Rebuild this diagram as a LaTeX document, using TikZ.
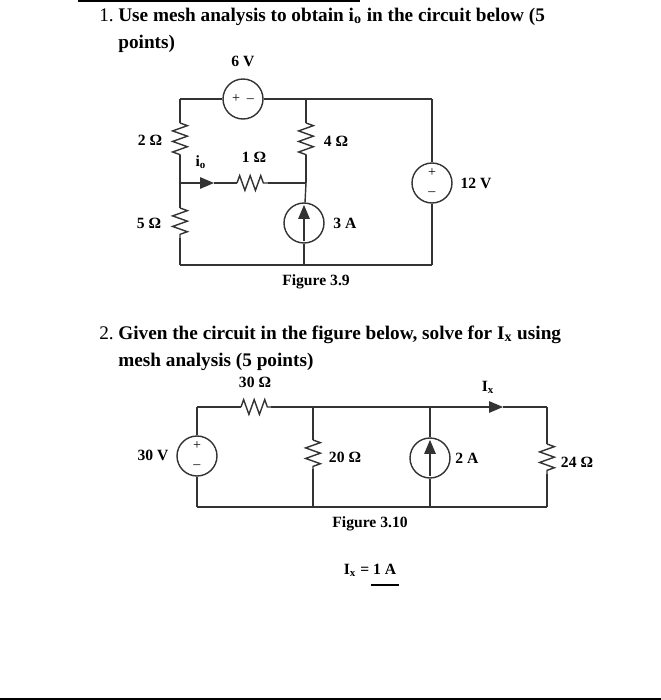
\documentclass[tikz,border=0pt]{standalone}
\usepackage{fontspec}
\setmainfont{Liberation Serif}
\usetikzlibrary{arrows,decorations.pathmorphing}
\begin{document}
\begin{tikzpicture}[x=0.02cm,y=-0.02cm]
\tikzstyle{wire}=[draw=black!80, line width=0.8pt]
\tikzstyle{res}=[wire, decorate, decoration={zigzag, segment length=6pt, amplitude=4.2pt}]
\tikzstyle{src}=[circle, draw=black!80, line width=0.8pt, minimum size=0.8cm, inner sep=0pt, font=\fontsize{8}{8}\selectfont]
\tikzstyle{lbl}=[inner sep=0pt, font=\fontsize{8.9}{10}\bfseries\selectfont]
\tikzstyle{txt}=[inner sep=0pt, anchor=base west, font=\fontsize{10.95}{13}\bfseries\selectfont]
\useasboundingbox (0,0) rectangle (661,700);
% top and bottom rules
\coordinate (t1) at (78,1);
\coordinate (t2) at (360,1);
\coordinate (b1) at (0,699);
\coordinate (b2) at (661,699);
\draw[line width=1.2pt] (t1) -- (t2);
\draw[line width=1.2pt] (b1) -- (b2);
% question 1
\node[txt, font=\fontsize{10.95}{13}\selectfont] (q1n) at (99,21) {1.};
\node[txt] (q1a) at (118,21) {Use mesh analysis to obtain i\textsubscript{o} in the circuit below (5};
\node[txt] (q1b) at (118,48) {points)};
% first circuit
\coordinate (a1) at (180,99);
\coordinate (a2) at (306,99);
\coordinate (a3) at (432,99);
\coordinate (a4) at (180,183);
\coordinate (a5) at (306,183);
\coordinate (a6) at (180,265);
\coordinate (a7) at (304,265);
\coordinate (a8) at (432,265);
\coordinate (r2t) at (180,123);
\coordinate (r2b) at (180,155);
\coordinate (r5t) at (180,208);
\coordinate (r5b) at (180,238);
\coordinate (r4t) at (306,123);
\coordinate (r4b) at (306,155);
\coordinate (r1l) at (237,183);
\coordinate (r1r) at (268,183);
\coordinate (io) at (214,183);
\node[src] (v6) at (243,99) {+\hspace{4pt}--};
\node[src] (v12) at (432,183) {\begin{tabular}{@{}c@{}}+\\[3pt]--\end{tabular}};
\node[src] (i3) at (304,223) {};
\foreach \i/\j in {a1/v6,v6/a2,a2/a3,a3/v12,v12/a8,a8/a7,a7/a6,a6/r5b,r5t/a4,a4/r2b,r2t/a1,a2/r4t,r4b/a5,a5/i3,i3/a7,r1r/a5,io/r1l}{\draw[wire] (\i) -- (\j);}
\foreach \i/\j in {r2t/r2b,r5t/r5b,r4t/r4b,r1l/r1r}{\draw[res] (\i) -- (\j);}
\draw[wire, -triangle 45] (a4) -- (io);
\draw[wire, -triangle 45, shorten >=1.5pt, shorten <=1.5pt] (i3.south) -- (i3.north);
\node[lbl] (l6) at (243,61) {6 V};
\node[lbl] (l2) at (150,140) {2 Ω};
\node[lbl] (l5) at (149,223) {5 Ω};
\node[lbl] (l4) at (336,141) {4 Ω};
\node[lbl] (l1) at (254,157) {1 Ω};
\node[lbl] (lio) at (201,162) {i\textsubscript{o}};
\node[lbl] (l12) at (476,183) {12 V};
\node[lbl] (l3) at (345,223) {3 A};
\node[lbl] (fig1) at (316,282) {Figure 3.9};
% question 2
\node[txt, font=\fontsize{10.95}{13}\selectfont] (q2n) at (99,339) {2.};
\node[txt] (q2a) at (118,339) {Given the circuit in the figure below, solve for I\textsubscript{x} using};
\node[txt] (q2b) at (118,366) {mesh analysis (5 points)};
% second circuit
\coordinate (c1) at (197,407);
\coordinate (c2) at (313,407);
\coordinate (c3) at (430,407);
\coordinate (c4) at (547,407);
\coordinate (c5) at (197,507);
\coordinate (c6) at (313,507);
\coordinate (c7) at (430,507);
\coordinate (c8) at (547,507);
\coordinate (r30l) at (241,407);
\coordinate (r30r) at (271,407);
\coordinate (r20t) at (313,440);
\coordinate (r20b) at (313,469);
\coordinate (r24t) at (547,444);
\coordinate (r24b) at (547,474);
\coordinate (ix) at (503,407);
\node[src] (v30) at (197,456) {\begin{tabular}{@{}c@{}}+\\[3pt]--\end{tabular}};
\node[src] (i2) at (430,458) {};
\foreach \i/\j in {v30/c1,c1/r30l,r30r/c2,c2/c3,c2/r20t,r20b/c6,c3/i2,i2/c7,ix/c4,c4/r24t,r24b/c8,c8/c7,c7/c6,c6/c5,c5/v30}{\draw[wire] (\i) -- (\j);}
\foreach \i/\j in {r30l/r30r,r20t/r20b,r24t/r24b}{\draw[res] (\i) -- (\j);}
\draw[wire, -triangle 45] (c3) -- (ix);
\draw[wire, -triangle 45, shorten >=1.5pt, shorten <=1.5pt] (i2.south) -- (i2.north);
\node[lbl] (l30r) at (255,382) {30 Ω};
\node[lbl] (lix) at (488,387) {I\textsubscript{x}};
\node[lbl] (l30) at (153,455) {30 V};
\node[lbl] (l20) at (345,457) {20 Ω};
\node[lbl] (l2a) at (467,458) {2 A};
\node[lbl] (l24) at (577,462) {24 Ω};
\node[lbl] (fig2) at (370,524) {Figure 3.10};
\node[lbl] (ans) at (370,570) {I\textsubscript{x} = 1 A};
\coordinate (u1) at (371,585);
\coordinate (u2) at (399,585);
\draw[line width=0.7pt] (u1) -- (u2);
\end{tikzpicture}
\end{document}
